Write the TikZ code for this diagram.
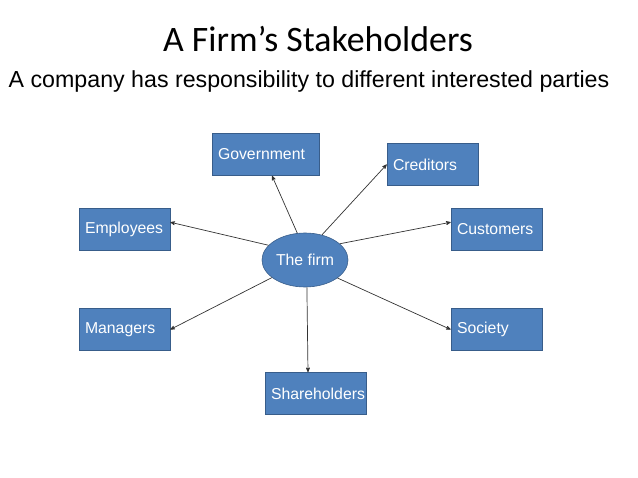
\documentclass[tikz,border=0pt]{standalone}
\usepackage{fontspec}
\setmainfont{Liberation Sans}
\newfontfamily\titlefont{Carlito}
\usepackage{tikz}
\usetikzlibrary{positioning,shapes,arrows,calc}
\definecolor{boxblue}{HTML}{4F81BD}
\definecolor{boxline}{HTML}{385D8A}

\begin{document}
\begin{tikzpicture}[->,>=stealth',x=1pt,y=-1pt,semithick]
  \tikzstyle{party}=[rectangle, draw=boxline, fill=boxblue, text=white,
    font=\fontsize{15.8}{18}\selectfont, minimum height=42pt,
    inner xsep=6pt, text width=#1, align=left]
  \tikzstyle{firmnode}=[ellipse, draw=boxline, fill=boxblue, text=white,
    font=\fontsize{15.8}{18}\selectfont, minimum width=86pt, minimum height=54pt,
    inner sep=0pt]
  \useasboundingbox (0,0) rectangle (638,478);

  \node (title) at (318,39) {\titlefont\fontsize{35.8}{40}\selectfont A Firm’s Stakeholders};
  \node (sub) at (309,82) {\fontsize{23.2}{26}\selectfont A company has responsibility to different interested parties};

  \node[firmnode] (firm) at (305,260) {The firm};

  \node[party=95pt] (gov)   at (265.5,154.5) {Government};
  \node[party=79pt] (cred)  at (432.5,164.5) {Creditors};
  \node[party=79pt] (emp)   at (124.5,229.5) {Employees};
  \node[party=79pt] (cust)  at (496.5,229.5) {Customers};
  \node[party=79pt] (man)   at (124.5,329.5) {Managers};
  \node[party=79pt] (soc)   at (496.5,329.5) {Society};
  \node[party=89pt] (share) at (315.5,393.5) {Shareholders};

  \path[color=black!80, line width=0.7pt]
        (firm.106) edge (gov.-73)
        (firm.56)  edge (cred.west)
        (firm.158) edge (emp.9)
        (firm.25)  edge (cust.171)
        (firm.208) edge (man.east)
        (firm.331) edge (soc.west)
        (firm.274) edge ([xshift=-7.5pt]share.north);

\end{tikzpicture}
\end{document}
